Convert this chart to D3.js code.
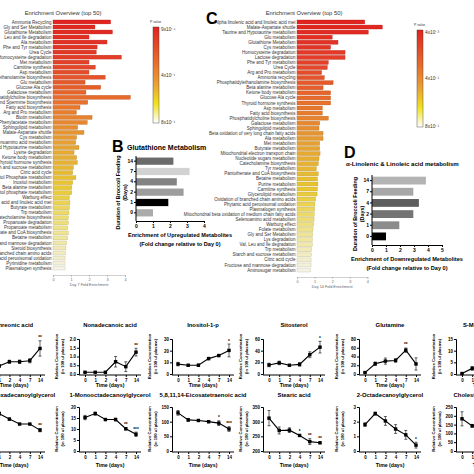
<!DOCTYPE html>
<html>
<head>
<meta charset="utf-8">
<script src="https://cdn.jsdelivr.net/npm/d3@7"></script>
<style>
  body { margin: 0; background: #fff; }
  svg { display: block; font-family: 'Liberation Sans', Arial, sans-serif; }
  .bold { font-weight: bold; }
</style>
</head>
<body>
<svg width="474" height="474"></svg>
<script>
const svg = d3.select('svg');

// ---------- data ----------
const enrichANames = ['Ammonia Recycling', 'Gly and Ser Metabolism', 'Glutathione Metabolism', 'Leu and Ile degradation',
  'Ala metabolism', 'Phe and Tyr metabolism', 'Urea Cycle', 'Homocysteine degradation', 'Met metabolism',
  'Carnitine synthesis', 'Asp metabolism', 'Phosphatidylethanolamine biosynthesis', 'Glu metabolism', 'Glucose Ala cycle',
  'Galactose metabolism', 'Phosphatidylcholine biosynthesis', 'Spermidine and Spermine biosynthesis', 'Fatty acid biosynthesis',
  'Arg and Pro metabolism', 'Biotin metabolism', 'Phenylacetate metabolism', 'Sphingolipid metabolism', 'Malate-Aspartate shuttle',
  'Cys metabolism', 'Selenoamino acid metabolism', 'Taurine and Hypotaurine metabolism', 'Lysine degradation',
  'Ketone body metabolism', 'Thyroid hormone synthesis', 'Starch and sucrose metabolism', 'Citric acid cycle',
  'Phosphatidylinositol Phosphate metabolism', 'Inositol metabolism', 'Beta alanine metabolism', 'Inositol phosphate metabolism',
  'Warburg effect', 'Alpha linolenic acid and linoleic acid met', 'Butyrate metabolism', 'Trp metabolism',
  'Catecholamine biosynthesis', 'Propanoate degradation', 'Propanoate metabolism', 'Pantothenate and CoA biosynthesis',
  'Betaine metabolism', 'Fructose and mannose degradation', 'Steroid biosynthesis', 'Oxidation of branched chain amino acids',
  'Phytanic acid peroxisomal oxidation', 'Pyrimidine metabolism', 'Plasmalogen synthesis'];
const enrichAFold = [3.2, 2.33, 3.3, 2.0, 3.0, 2.45, 2.4, 3.8, 2.0, 2.35, 2.0, 2.9, 1.78, 2.65, 1.83, 4.3,
  1.93, 1.5, 1.3, 2.17, 1.9, 1.37, 1.72, 1.31, 1.26, 1.44, 1.17, 1.31, 1.35, 1.13, 1.09,
  1.27, 1.09, 1.04, 1.04, 0.91, 0.94, 0.91, 0.89, 0.85, 0.85, 0.81, 0.85, 0.81, 0.76, 0.72, 0.70, 0.67, 0.67, 0.67];

const enrichCNames = ['Alpha linolenic acid and linoleic acid met', 'Malate-Aspartate shuttle', 'Taurine and Hypotaurine metabolism',
  'Glu metabolism', 'Glutathione Metabolism', 'Cys metabolism', 'Homocysteine degradation', 'Lactose degradation',
  'Phe and Tyr metabolism', 'Urea Cycle', 'Arg and Pro metabolism', 'Ammonia recycling', 'Phosphatidylethanolamine biosynthesis',
  'Beta alanine metabolism', 'Ketone body metabolism', 'Glucose Ala cycle', 'Thyroid hormone synthesis', 'Asp metabolism',
  'Fatty acid biosynthesis', 'Phosphatidylcholine biosynthesis', 'Galactose metabolism', 'Sphingolipid metabolism',
  'Beta oxidation of very long chain fatty acids', 'Ala metabolism', 'Met metabolism', 'Butyrate metabolism',
  'Mitochondrial electron transport chain', 'Nucleotide sugars metabolism', 'Catecholamine biosynthesis', 'Tyr metabolism',
  'Pantothenate and CoA biosynthesis', 'Betaine metabolism', 'Purine metabolism', 'Carnitine synthesis',
  'Glycerolipid metabolism', 'Oxidation of branched chain amino acids', 'Phytanic acid peroxisomal oxidation',
  'Plasmalogen synthesis', 'Mitochondrial beta oxidation of medium chain fatty acids', 'Selenoamino acid metabolism',
  'Warburg effect', 'Folate metabolism', 'Gly and Ser Metabolism', 'Lys degradation', 'Val, Leu and Ile degradation',
  'Trp metabolism', 'Starch and sucrose metabolism', 'Citric acid cycle', 'Fructose and mannose degradation',
  'Aminosugar metabolism'];
const enrichCFold = [3.85, 4.85, 4.05, 2.0, 2.33, 1.91, 2.73, 2.73, 1.78, 1.72, 1.4, 1.55, 2.05, 1.48, 1.91, 1.91,
  1.91, 1.44, 1.44, 1.78, 1.29, 1.25, 1.48, 1.48, 1.29, 1.29, 1.31, 1.25, 1.21, 1.1, 1.21,
  1.16, 1.19, 1.16, 1.14, 1.06, 1.02, 1.0, 0.98, 0.97, 0.95, 0.91, 0.89, 0.87, 0.87, 0.83, 0.82, 0.8, 0.8, 0.78];

const feedDays = ['14', '7', '4', '2', '1', '0'];
const glutathioneUp = [2.2, 3.15, 2.4, 2.8, 1.9, 1.0];
const linoleicDown = [3.85, 2.95, 3.35, 2.95, 1.95, 1.0];

const timeDays = ['0', '1', '2', '4', '7', '14'];

const threonicMean = [4.0, 4.6, 7.0, 7.0, 7.6, 14.6];
const threonicErr = [0.8, 0.8, 0.9, 1.0, 1.2, 4.4];
const nonadecanoicMean = [0.1, 0.1, 0.1, 0.7, 0.42, 1.25];
const nonadecanoicErr = [0.02, 0.02, 0.01, 0.3, 0.28, 0.22];
const inositolMean = [8.5, 7.5, 7.5, 13.2, 15.8, 20.2];
const inositolErr = [1.5, 0.7, 1.0, 1.0, 0.5, 5.5];
const sitosterolMean = [15.5, 19, 15, 16.5, 33, 46];
const sitosterolErr = [3, 3, 1, 3, 5, 10];
const glutamineMean = [3.3, 23.5, 29.5, 31, 54.5, 23];
const glutamineErr = [1, 4, 7, 4, 5, 14];
const sMethylMean = [0.2, 2.4, 3.2, 5.0, 7.5, 11];
const sMethylErr = [0.1, 0.8, 1, 1, 1.5, 2];

const monohexMean = [3.6, 3.4, 2.9, 2.45, 2.45, 1.9];
const monohexErr = [0.2, 0.15, 0.1, 0.05, 0.05, 0.15];
const monooctMean = [15.2, 17, 14.3, 14.3, 10.1, 7.6];
const monooctErr = [1.0, 0.7, 0.5, 0.6, 0.5, 1.0];
const eicosaMean = [130, 106, 104, 100, 95, 75];
const eicosaErr = [8, 5, 2, 4, 8, 8];
const stearicMean = [312, 270, 271, 253, 232, 228];
const stearicErr = [26, 12, 8, 2, 10, 3];
const octadecMean = [1.8, 2.55, 2.05, 1.5, 1.1, 0.4];
const octadecErr = [0.12, 0.1, 0.3, 0.3, 0.3, 0.2];
const cholestaMean = [183, 143, 147, 140, 125, 110];
const cholestaErr = [40, 8, 12, 10, 10, 10];

// ---------- helpers ----------
const barColor = d3.scaleLinear()
  .domain([0, 0.16, 0.34, 0.5, 0.68, 0.82, 1])
  .range(['#e2231f', '#e4402a', '#e8752c', '#e5a232', '#e9c934', '#ede07e', '#f4f2e4']);

function enrichPanel(names, vals, o) {
  const g = svg.append('g');
  const y = d3.scaleBand().domain(d3.range(names.length)).range([o.top, o.bottom]).paddingInner(0.22);
  const x = d3.scaleLinear().domain([0, 4]).range([o.x0, o.x0 + 4 * o.unit]);

  g.selectAll('rect').data(vals).enter().append('rect')
    .attr('x', x(0))
    .attr('y', (d, i) => y(i))
    .attr('width', d => x(d) - x(0))
    .attr('height', y.bandwidth())
    .attr('fill', (d, i) => barColor(i / (names.length - 1)))
    .attr('stroke', (d, i) => d3.color(barColor(i / (names.length - 1))).darker(0.7))
    .attr('stroke-width', 0.35);

  g.selectAll('.lab').data(names).enter().append('text')
    .attr('x', x(0) - 1.5)
    .attr('y', (d, i) => y(i) + y.bandwidth() / 2)
    .attr('dy', '0.35em')
    .attr('text-anchor', 'end')
    .attr('font-size', 4.5)
    .attr('fill', '#333')
    .text(d => d);

  g.append('text').attr('x', o.titleX).attr('y', 15).attr('text-anchor', 'middle')
    .attr('font-size', 5.8).attr('fill', '#333').text('Enrichment Overview (top 50)');

  const ax = g.append('g').attr('transform', `translate(0,${o.axisY})`)
    .call(d3.axisBottom(x).ticks(4).tickSize(2).tickPadding(1.5));
  ax.selectAll('text').attr('font-size', 3.8).attr('fill', '#666');
  ax.selectAll('path,line').attr('stroke', '#888').attr('stroke-width', 0.4);
  g.append('text').attr('x', o.x0 + 2 * o.unit).attr('y', o.axisY + 11).attr('text-anchor', 'middle')
    .attr('font-size', 3.8).attr('fill', '#666').text(o.axisLabel);
}

function legend(id, x, top, bottom, labels) {
  const grad = svg.append('defs').append('linearGradient').attr('id', id)
    .attr('x1', 0).attr('y1', 0).attr('x2', 0).attr('y2', 1);
  [['0', '#e2231f'], ['0.35', '#e8692b'], ['0.6', '#eaa232'], ['0.8', '#f0e21e'], ['1', '#ffffff']]
    .forEach(s => grad.append('stop').attr('offset', s[0]).attr('stop-color', s[1]));
  svg.append('rect').attr('x', x).attr('y', top).attr('width', 6).attr('height', bottom - top)
    .attr('fill', `url(#${id})`).attr('stroke', '#333').attr('stroke-width', 0.4);
  svg.append('text').attr('x', x - 3).attr('y', top - 4).attr('font-size', 3.4).attr('fill', '#333').text('P value');
  const pos = [top + 2, (top + bottom) / 2, bottom - 1];
  labels.forEach((t, i) => svg.append('text').attr('x', x + 8).attr('y', pos[i]).attr('dy', '0.35em')
    .attr('font-size', 4.8).attr('fill', '#333').text(t));
}

function feedingBars(vals, greys, o) {
  const g = svg.append('g').attr('class', 'bold');
  const y = d3.scaleBand().domain(feedDays).range([o.top, o.bottom]).paddingInner(0.3).paddingOuter(0.15);
  const x = d3.scaleLinear().domain([0, o.xMax]).range([o.x0, o.x0 + o.xMax * o.unit]);

  g.selectAll('rect').data(vals).enter().append('rect')
    .attr('x', x(0)).attr('y', (d, i) => y(feedDays[i]))
    .attr('width', d => x(d) - x(0)).attr('height', y.bandwidth())
    .attr('fill', (d, i) => greys[i]);

  const ya = g.append('g').attr('transform', `translate(${o.x0},0)`)
    .call(d3.axisLeft(y).tickSize(2).tickPadding(1));
  ya.select('.domain').attr('d', `M0,${o.top}V${o.axisY}`);
  const xa = g.append('g').attr('transform', `translate(0,${o.axisY})`)
    .call(d3.axisBottom(x).ticks(o.xMax).tickSize(2).tickPadding(1.5));
  [ya, xa].forEach(a => {
    a.selectAll('text').attr('font-size', 5).attr('font-weight', 'bold').attr('fill', '#000');
    a.selectAll('path,line').attr('stroke', '#000').attr('stroke-width', 1);
  });

  const cy = (o.top + o.axisY) / 2 + 4;
  g.append('text').attr('transform', `translate(${o.ylabX},${cy}) rotate(-90)`).attr('text-anchor', 'middle')
    .attr('font-size', 5.4).text('Duration of Broccoli Feeding');
  g.append('text').attr('transform', `translate(${o.ylabX + 6.5},${cy}) rotate(-90)`).attr('text-anchor', 'middle')
    .attr('font-size', 5.4).text('(Days)');
  g.append('text').attr('x', o.labX).attr('y', o.axisY + 16).attr('text-anchor', 'middle')
    .attr('font-size', 5.6).text(o.xLabel);
  g.append('text').attr('x', o.labX).attr('y', o.axisY + 25).attr('text-anchor', 'middle')
    .attr('font-size', 5.6).text('(Fold change relative to Day 0)');
}

function timeCourse(c, axisX, r) {
  const g = svg.append('g').attr('class', 'bold');
  const x = d3.scalePoint().domain(timeDays).range([axisX + 6, axisX + 57]);
  const y = d3.scaleLinear().domain([c.ticks[0], c.ticks[c.ticks.length - 1]]).range([r.bottom, r.top]);

  const ya = g.append('g').attr('transform', `translate(${axisX},0)`)
    .call(d3.axisLeft(y).tickValues(c.ticks).tickFormat(c.fmt || d3.format('')).tickSize(2).tickPadding(1));
  const xa = g.append('g').attr('transform', `translate(0,${r.bottom + 1})`)
    .call(d3.axisBottom(x).tickSize(2).tickPadding(1.5));
  xa.select('.domain').attr('d', `M${axisX},0H${axisX + 62}`);
  [ya, xa].forEach(a => {
    a.selectAll('text').attr('font-size', 4.5).attr('font-weight', 'bold').attr('fill', '#000');
    a.selectAll('path,line').attr('stroke', '#000').attr('stroke-width', 1);
  });

  g.append('path').datum(c.mean)
    .attr('d', d3.line().x((d, i) => x(timeDays[i])).y(d => y(d)))
    .attr('fill', 'none').attr('stroke', '#000').attr('stroke-width', 1.1);

  const eb = g.selectAll('.eb').data(c.mean).enter().append('g');
  eb.append('line')
    .attr('x1', (d, i) => x(timeDays[i])).attr('x2', (d, i) => x(timeDays[i]))
    .attr('y1', (d, i) => y(d - c.err[i])).attr('y2', (d, i) => y(d + c.err[i]))
    .attr('stroke', '#000').attr('stroke-width', 0.6);
  [-1, 1].forEach(s => eb.append('line')
    .attr('x1', (d, i) => x(timeDays[i]) - 1.5).attr('x2', (d, i) => x(timeDays[i]) + 1.5)
    .attr('y1', (d, i) => y(d + s * c.err[i])).attr('y2', (d, i) => y(d + s * c.err[i]))
    .attr('stroke', '#000').attr('stroke-width', 0.6));
  eb.append('rect')
    .attr('x', (d, i) => x(timeDays[i]) - 1.7).attr('y', d => y(d) - 1.7)
    .attr('width', 3.4).attr('height', 3.4).attr('fill', '#000');
  eb.append('text')
    .attr('x', (d, i) => x(timeDays[i])).attr('y', (d, i) => y(d + c.err[i]) - 1.5)
    .attr('text-anchor', 'middle').attr('font-size', 4.6)
    .text((d, i) => c.stars[i]);

  const mid = axisX + 31;
  g.append('text').attr('x', mid).attr('y', r.title).attr('text-anchor', 'middle')
    .attr('font-size', 5.9).text(c.name);
  g.append('text').attr('x', mid).attr('y', r.time).attr('text-anchor', 'middle')
    .attr('font-size', 5.2).text('Time (days)');
  const cy = (r.top + r.bottom) / 2;
  g.append('text').attr('transform', `translate(${axisX - 21},${cy}) rotate(-90)`).attr('text-anchor', 'middle')
    .attr('font-size', 4.2).text('Relative Concentration');
  g.append('text').attr('transform', `translate(${axisX - 15.5},${cy}) rotate(-90)`).attr('text-anchor', 'middle')
    .attr('font-size', 4.2).text('(in 100 ul plasma)');
}

// ---------- panels A and C ----------
enrichPanel(enrichANames, enrichAFold, { x0: 53, unit: 18, top: 20, bottom: 270, axisY: 275, titleX: 63,
  axisLabel: 'Day 7 Fold Enrichment' });
legend('gradA', 153, 27, 123, ['9x10⁻⁵', '4x10⁻¹', '8x10⁻¹']);

enrichPanel(enrichCNames, enrichCFold, { x0: 297, unit: 17.6, top: 20, bottom: 272, axisY: 277, titleX: 304,
  axisLabel: 'Day 14 Fold Enrichment' });
legend('gradC', 417, 30, 127, ['4x10⁻³', '4x10⁻¹', '8x10⁻¹']);

// panel letters and titles
[['B', 112, 152], ['C', 206, 24], ['D', 344, 158]].forEach(p =>
  svg.append('text').attr('x', p[1]).attr('y', p[2]).attr('font-size', 16).attr('font-weight', 'bold').text(p[0]));
svg.append('text').attr('x', 127).attr('y', 150).attr('font-size', 7).attr('font-weight', 'bold')
  .text('Glutathione Metabolism');
svg.append('text').attr('x', 346).attr('y', 166).attr('font-size', 6.1).attr('font-weight', 'bold')
  .text('α-Linolenic & Linoleic acid metabolism');

// ---------- panels B and D ----------
feedingBars(glutathioneUp, ['#6b6b6b', '#d2d2d2', '#838383', '#9d9d9d', '#000000', '#ababab'],
  { x0: 136, unit: 17, xMax: 4, top: 156, bottom: 218, axisY: 221, ylabX: 120, labX: 180,
    xLabel: 'Enrichment of Upregulated Metabolites' });
feedingBars(linoleicDown, ['#b3b3b3', '#a7a7a7', '#5e5e5e', '#747474', '#8c8c8c', '#000000'],
  { x0: 372, unit: 14, xMax: 5, top: 175, bottom: 242, axisY: 245, ylabX: 357, labX: 407,
    xLabel: 'Enrichment of Downregulated Metabolites' });

// ---------- time courses ----------
const colX = [-17, 79, 172, 263, 359, 456];
const rowOneBox = { top: 339, bottom: 374, title: 327, time: 387 };
const rowTwoBox = { top: 407, bottom: 451, title: 397, time: 467 };
const rowOne = [
  { name: 'Threonic acid', mean: threonicMean, err: threonicErr, ticks: [0, 5, 10, 15, 20], stars: ['', '', '', '', '', '**'] },
  { name: 'Nonadecanoic acid', mean: nonadecanoicMean, err: nonadecanoicErr, ticks: [0, 0.5, 1, 1.5, 2],
    fmt: d3.format('.1f'), stars: ['', '', '', '', '', '**'] },
  { name: 'Inositol-1-p', mean: inositolMean, err: inositolErr, ticks: [0, 10, 20, 30], stars: ['', '', '', '', '', '*'] },
  { name: 'Sitosterol', mean: sitosterolMean, err: sitosterolErr, ticks: [0, 20, 40, 60], stars: ['', '', '', '', '', '*'] },
  { name: 'Glutamine', mean: glutamineMean, err: glutamineErr, ticks: [0, 20, 40, 60, 80], stars: ['', '', '', '', '**', ''] },
  { name: 'S-Methylcysteine', mean: sMethylMean, err: sMethylErr, ticks: [0, 5, 10, 15], stars: ['', '', '', '', '', ''] }
];
const rowTwo = [
  { name: '1-Monohexadecanoylglycerol', mean: monohexMean, err: monohexErr, ticks: [0, 1, 2, 3, 4], stars: ['', '', '', '', '', '**'] },
  { name: '1-Monooctadecanoylglycerol', mean: monooctMean, err: monooctErr, ticks: [0, 5, 10, 15, 20], stars: ['', '', '', '', '**', '***'] },
  { name: '5,8,11,14-Eicosatetraenoic acid', mean: eicosaMean, err: eicosaErr, ticks: [0, 50, 100, 150], stars: ['', '', '', '', '*', '***'] },
  { name: 'Stearic acid', mean: stearicMean, err: stearicErr, ticks: [200, 250, 300, 350], stars: ['', '', '', '*', '**', '**'] },
  { name: '2-Octadecanoylglycerol', mean: octadecMean, err: octadecErr, ticks: [0, 1, 2, 3], stars: ['', '', '', '', '', '*'] },
  { name: 'Cholesta-3,5-dien-7-one', mean: cholestaMean, err: cholestaErr, ticks: [0, 50, 100, 150, 200, 250], stars: ['', '', '', '', '', ''] }
];
rowOne.forEach((c, i) => timeCourse(c, colX[i], rowOneBox));
rowTwo.forEach((c, i) => timeCourse(c, colX[i], rowTwoBox));
</script>
</body>
</html>
